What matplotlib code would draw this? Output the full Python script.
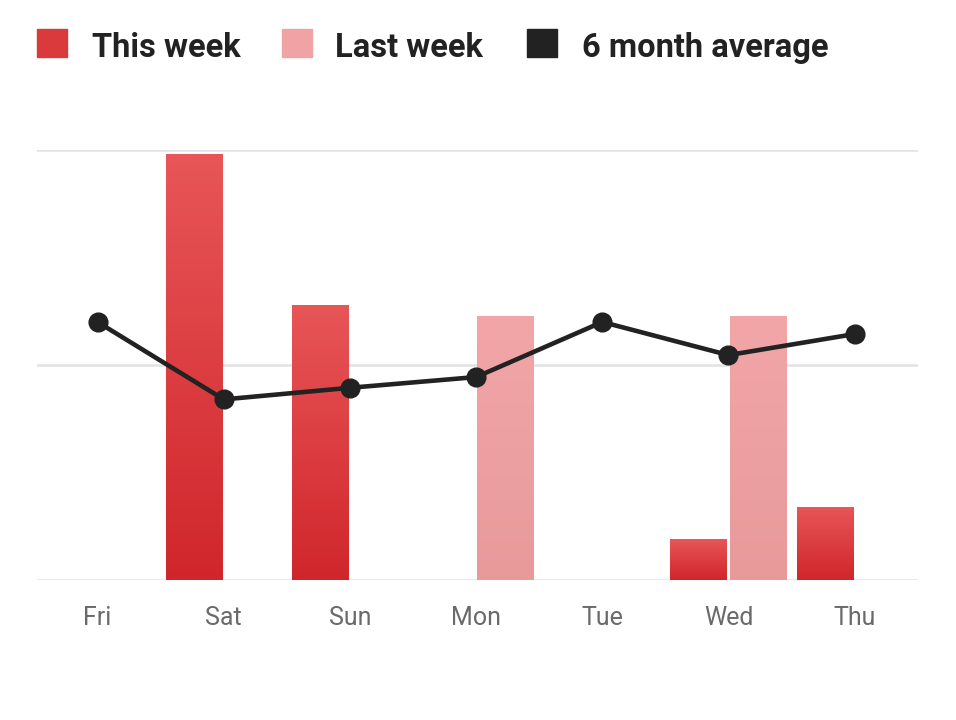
import numpy as np
import matplotlib
matplotlib.use("Agg")
import matplotlib.pyplot as plt
from matplotlib.patches import Rectangle
from matplotlib.colors import LinearSegmentedColormap

# data (gridlines at 0, 50, 100)
days = ["Fri", "Sat", "Sun", "Mon", "Tue", "Wed", "Thu"]
this_week = [0, 99, 64, 0, 0, 9.5, 17]
last_week = [0, 0, 0, 61.5, 0, 61.5, 0]
avg_6m = [60, 42, 44.7, 47.2, 60, 52.3, 57.2]

series_names = ["This week", "Last week", "6 month average"]
series_colors = ["#db3a3c", "#f0a3a5", "#222222"]

W, H = 956, 720
fig = plt.figure(figsize=(W / 100, H / 100), dpi=100)
ax = fig.add_axes([0.0387, 0.1944, 0.9213, 0.5973])

x = np.arange(len(days))
w = 0.45
off = 0.235

red_cmap = LinearSegmentedColormap.from_list("red", ["#d0262b", "#e85658"])
pink_cmap = LinearSegmentedColormap.from_list("pink", ["#e89a9b", "#f2a6a8"])
grad = np.linspace(0, 1, 256).reshape(-1, 1)

def gradient_bars(xs, vals, cmap):
    for xi, v in zip(xs, vals):
        if v <= 0:
            continue
        p = ax.bar(xi, v, width=w, color="none", edgecolor="none", zorder=2)[0]
        im = ax.imshow(grad, cmap=cmap, origin="lower", aspect="auto",
                       extent=[xi - w / 2, xi + w / 2, 0, v], zorder=2)
        im.set_clip_path(p)

gradient_bars(x - off, this_week, red_cmap)
gradient_bars(x + off, last_week, pink_cmap)

ax.plot(x, avg_6m, color="#222222", lw=3.3, marker="o", ms=13.5, zorder=3)

ax.set_xlim(-0.48, 6.5)
ax.set_ylim(0, 100)
ax.set_yticks([0, 50, 100])
ax.yaxis.grid(True, color="#e2e2e2", lw=1.8, zorder=0)
ax.set_axisbelow(True)
for s in ax.spines.values():
    s.set_visible(False)
ax.tick_params(left=False, labelleft=False, bottom=False, pad=15)
ax.set_xticks(x)
ax.set_xticklabels(days, fontsize=18, color="#6a6a6a", fontfamily="Roboto")

# legend drawn by hand: squares and labels in pixel positions
leg_sq_x = [37, 282, 527]
leg_txt_x = [92, 335, 582]
for sx, tx, name, col in zip(leg_sq_x, leg_txt_x, series_names, series_colors):
    fig.patches.append(Rectangle((sx / W, 1 - 57 / H), 30 / W, 28 / H,
                                 transform=fig.transFigure, color=col))
    fig.text(tx / W, 1 - 57 / H, name, fontsize=23.5, fontweight="bold",
             fontfamily="Roboto", color="#222222", va="baseline", ha="left")

fig.savefig("out.png", dpi=100)
